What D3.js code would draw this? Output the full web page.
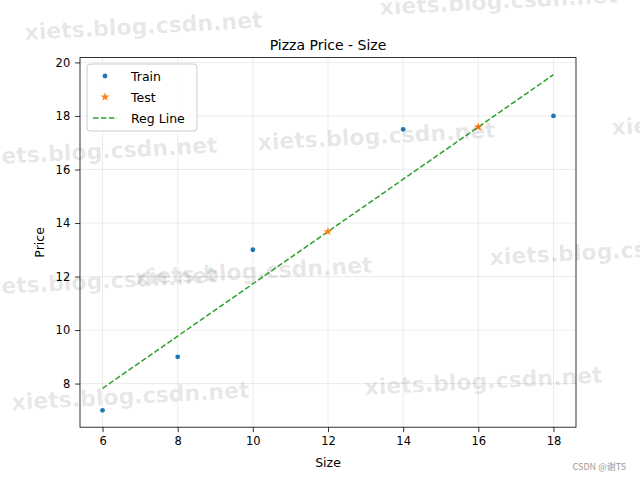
<!DOCTYPE html>
<html><head><meta charset="utf-8">
<script src="https://cdn.jsdelivr.net/npm/d3@7"></script>
<style>body{margin:0;background:#fff}text{font-family:"DejaVu Sans",sans-serif}</style>
</head><body>
<svg id="c" width="640" height="480"></svg>
<script>
const trainX=[6,8,10,14,18], trainY=[7,9,13,17.5,18];
const testX=[12,16], testY=[13.68,17.59];
const lineX=[6,18], lineY=[7.82,19.54];
const xTicks=[6,8,10,12,14,16,18], yTicks=[8,10,12,14,16,18,20];
const svg=d3.select("#c");
const L=80,R=576,T=57.6,B=427.2;
const x=d3.scaleLinear().domain([5.4,18.6]).range([L,R]);
const y=d3.scaleLinear().domain([6.37,20.18]).range([B,T]);
const g=svg.append("g");
g.selectAll(".gx").data(xTicks).join("line").attr("x1",d=>x(d)).attr("x2",d=>x(d)).attr("y1",T).attr("y2",B).attr("stroke","#b0b0b0").attr("stroke-opacity",0.3).attr("stroke-width",0.8);
g.selectAll(".gy").data(yTicks).join("line").attr("y1",d=>y(d)).attr("y2",d=>y(d)).attr("x1",L).attr("x2",R).attr("stroke","#b0b0b0").attr("stroke-opacity",0.3).attr("stroke-width",0.8);
const xa=svg.append("g").attr("transform",`translate(0,${B})`).call(d3.axisBottom(x).tickValues(xTicks).tickSizeOuter(0).tickSize(4.9).tickPadding(4.9));
const ya=svg.append("g").attr("transform",`translate(${L},0)`).call(d3.axisLeft(y).tickValues(yTicks).tickSizeOuter(0).tickSize(4.9).tickPadding(4.9));
[xa,ya].forEach(a=>{a.select(".domain").remove();a.selectAll("text").attr("font-size",11.5).attr("fill","#000").style("font-family","DejaVu Sans");a.selectAll("line").attr("stroke","#000").attr("stroke-width",0.8);});
svg.append("rect").attr("x",L).attr("y",T).attr("width",R-L).attr("height",B-T).attr("fill","none").attr("stroke","#000").attr("stroke-width",0.8);
svg.append("path").datum(lineX.map((d,i)=>[d,lineY[i]])).attr("d",d3.line().x(d=>x(d[0])).y(d=>y(d[1]))).attr("fill","none").attr("stroke","#2ca02c").attr("stroke-width",1.5).attr("stroke-dasharray","5.5,2.4");
svg.selectAll(".tr").data(trainX).join("circle").attr("cx",d=>x(d)).attr("cy",(d,i)=>y(trainY[i])).attr("r",2.4).attr("fill","#1f77b4");
const star=d3.symbol().type(d3.symbolStar).size(24);
svg.selectAll(".te").data(testX).join("path").attr("d",star).attr("transform",(d,i)=>`translate(${x(d)},${y(testY[i])})`).attr("fill","#ff7f0e");
svg.append("text").attr("x",(L+R)/2).attr("y",50).attr("text-anchor","middle").attr("font-size",14).text("Pizza Price - Size");
svg.append("text").attr("x",(L+R)/2).attr("y",467).attr("text-anchor","middle").attr("font-size",12.5).text("Size");
svg.append("text").attr("transform",`translate(44,${(T+B)/2}) rotate(-90)`).attr("text-anchor","middle").attr("font-size",12.5).text("Price");
const lg=svg.append("g").attr("transform","translate(87,64)");
lg.append("rect").attr("width",110).attr("height",67).attr("rx",3).attr("fill","#fff").attr("fill-opacity",0.8).attr("stroke","#ccc");
const items=["Train","Test","Reg Line"];
items.forEach((t,i)=>{const cy=12+i*21;
 if(i==0)lg.append("circle").attr("cx",18).attr("cy",cy).attr("r",2.4).attr("fill","#1f77b4");
 if(i==1)lg.append("path").attr("d",star).attr("transform",`translate(18,${cy})`).attr("fill","#ff7f0e");
 if(i==2)lg.append("line").attr("x1",6).attr("x2",30).attr("y1",cy).attr("y2",cy).attr("stroke","#2ca02c").attr("stroke-width",1.5).attr("stroke-dasharray","5.5,2.4");
 lg.append("text").attr("x",44).attr("y",cy+4.5).attr("font-size",12.5).text(t);});
const wm=[[25,40],[380,15],[-20,165],[258,150],[612,135],[135,285],[490,265],[-20,295],[365,395],[12,410]];
svg.selectAll(".wm").data(wm).join("text").attr("x",d=>d[0]).attr("y",d=>d[1]).attr("transform",d=>`rotate(-3,${d[0]},${d[1]})`).attr("font-size",22).attr("font-weight","bold").attr("fill","#000").attr("fill-opacity",0.1).text("xiets.blog.csdn.net");
svg.append("text").attr("x",626).attr("y",470).attr("text-anchor","end").attr("font-size",9).attr("fill","#999").text("CSDN @谢TS").style("font-family","Noto Sans CJK SC");
</script></body></html>
